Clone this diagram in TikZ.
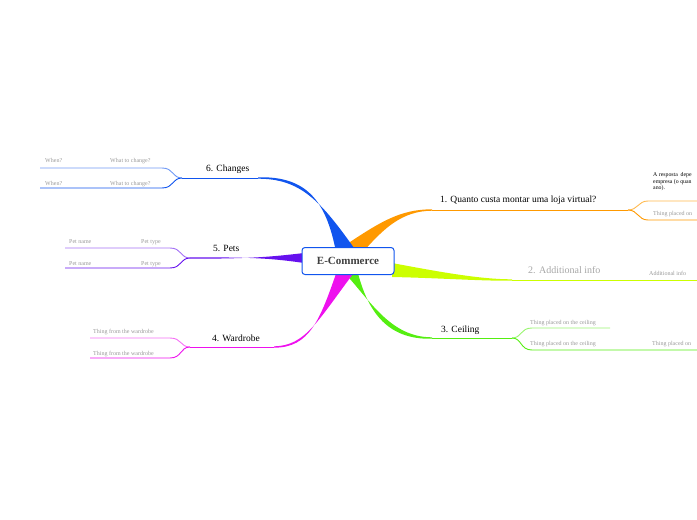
\documentclass[tikz,border=0pt]{standalone}
\usepackage{fontspec}
\setmainfont{Liberation Serif}
\begin{document}
\begin{tikzpicture}[x=1pt,y=-1pt,
  lbl/.style={font=\fontsize{9.5}{10}\selectfont,inner sep=0pt,anchor=base west},
  sm/.style={font=\fontsize{6}{7}\selectfont,text=gray!80,inner sep=0pt,anchor=base west},
  ln/.style={line width=0.9pt}]
\useasboundingbox (0,0) rectangle (697,520);
\definecolor{cor}{RGB}{255,153,0}
\definecolor{cyl}{RGB}{204,255,0}
\definecolor{cgr}{RGB}{85,238,17}
\definecolor{cbl}{RGB}{17,85,238}
\definecolor{cpu}{RGB}{102,17,238}
\definecolor{cma}{RGB}{238,17,238}
% branch 1 orange
\fill[cor] (344,246) .. controls (380,222) and (400,209.3) .. (432,209.3) -- (432,210.7) .. controls (402,211) and (384,228) .. (362,253) -- cycle;
\draw[cor,ln] (432,210) coordinate (b1) -- (628,210) coordinate (b1e);
\draw[cor!70,ln] (b1e) .. controls (638,210) and (638,201) .. (648,201) -- (697,201);
\draw[cor,ln] (b1e) .. controls (638,210) and (638,220) .. (648,220) -- (697,220);
% branch 2 yellow
\fill[cyl] (392,263) .. controls (440,272) and (480,279.3) .. (512,279.3) -- (512,280.7) .. controls (480,281) and (440,278) .. (392,277) -- cycle;
\draw[cyl,ln] (512,280) -- (697,280);
% branch 3 green
\fill[cgr] (342,270) .. controls (370,300) and (390,337.3) .. (432,337.3) -- (432,338.7) .. controls (386,340) and (366,310) .. (356,265) -- cycle;
\draw[cgr,ln] (432,338) -- (512,338) coordinate (b3e);
\draw[cgr!60,ln] (b3e) .. controls (522,338) and (520,328) .. (532,328) -- (610,328);
\draw[cgr,ln] (b3e) .. controls (522,338) and (520,350) .. (532,350) -- (697,350);
% branch 6 blue
\fill[cbl] (354,248) .. controls (320,200) and (300,178.7) .. (258,178.7) -- (258,177.3) .. controls (306,176) and (326,200) .. (336,252) -- cycle;
\draw[cbl,ln] (258,178) -- (182,178) coordinate (b6e);
\draw[cbl!60,ln] (b6e) .. controls (172,178) and (174,168) .. (162,168) -- (40,168);
\draw[cbl,ln] (b6e) .. controls (172,178) and (174,188) .. (162,188) -- (40,188);
% branch 5 purple
\fill[cpu] (304,253) .. controls (270,257) and (250,258.7) .. (190,258.7) -- (190,257.3) .. controls (250,257.3) and (270,258) .. (304,263) -- cycle;
\draw[cpu,ln] (190,258) coordinate (b5e);
\draw[cpu!60,ln] (b5e) .. controls (180,258) and (182,248) .. (170,248) -- (65,248);
\draw[cpu,ln] (b5e) .. controls (180,258) and (182,268) .. (170,268) -- (65,268);
% branch 4 magenta
\fill[cma] (338,268) .. controls (320,320) and (310,347.7) .. (274,347.7) -- (274,346.3) .. controls (306,346) and (318,320) .. (356,270) -- cycle;
\draw[cma,ln] (274,347) -- (190,347) coordinate (b4e);
\draw[cma!60,ln] (b4e) .. controls (180,347) and (182,338) .. (170,338) -- (90,338);
\draw[cma,ln] (b4e) .. controls (180,347) and (182,358) .. (170,358) -- (90,358);
% center
\node[draw=cbl,line width=1pt,rounded corners=3pt,fill=white,minimum width=92pt,minimum height=27pt,font=\bfseries\fontsize{11}{12}\selectfont,text=black!75] (c) at (348,261) {E-Commerce};
% labels
\node[lbl] (t1) at (440,202) {1. Quanto custa montar uma loja virtual?};
\node[font=\fontsize{5.8}{6.8}\selectfont,inner sep=0pt,anchor=north west,align=left] (t1a) at (653,172) {A resposta\ \ depe\\empresa (o quan\\ano).};
\node[sm] (t1b) at (653,215) {Thing placed on};
\node[lbl,text=gray!70,font=\fontsize{10}{11}\selectfont] (t2) at (528,273) {2. Additional info};
\node[sm] (t2a) at (649,275) {Additional info};
\node[lbl] (t3) at (441,332) {3. Ceiling};
\node[sm] (t3a) at (530,324) {Thing placed on the ceiling};
\node[sm] (t3b) at (530,345) {Thing placed on the ceiling};
\node[sm] (t3c) at (652,345) {Thing placed on};
\node[lbl] (t6) at (206,171) {6. Changes};
\node[sm] (t6a) at (45,162) {When?};
\node[sm] (t6b) at (110,162) {What to change?};
\node[sm] (t6c) at (45,185) {When?};
\node[sm] (t6d) at (110,185) {What to change?};
\node[lbl] (t5) at (213,251) {5. Pets};
\node[sm] (t5a) at (69,243) {Pet name};
\node[sm] (t5b) at (141,243) {Pet type};
\node[sm] (t5c) at (69,265) {Pet name};
\node[sm] (t5d) at (141,265) {Pet type};
\node[lbl] (t4) at (212,341) {4. Wardrobe};
\node[sm] (t4a) at (93,333) {Thing from the wardrobe};
\node[sm] (t4b) at (93,355) {Thing from the wardrobe};
\end{tikzpicture}
\end{document}
